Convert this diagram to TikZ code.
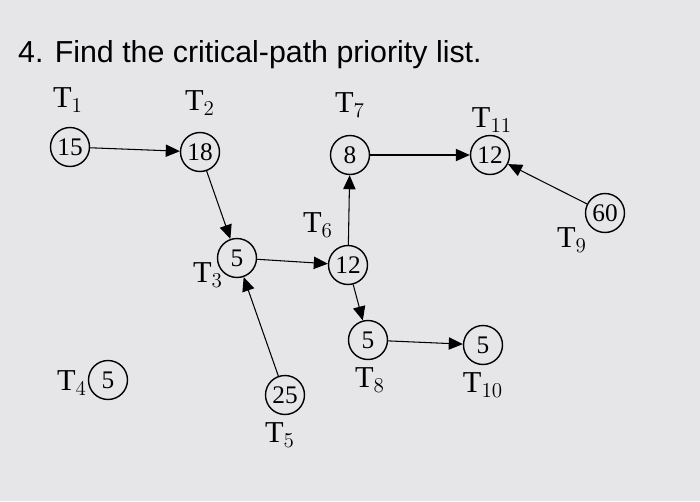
\documentclass[tikz,border=0pt]{standalone}
\usepackage{fontspec}
\setmainfont{Liberation Serif}
\newfontfamily\titlefont{Liberation Sans}
\usetikzlibrary{arrows.meta}
\definecolor{paper}{HTML}{E6E6E8}
\tikzset{
  task/.style={circle, draw, thick, minimum size=0.78cm, inner sep=0pt, font=\Large},
  tname/.style={font=\LARGE},
  edge/.style={draw, -{Triangle[length=8pt,width=7pt]}, semithick}
}
\begin{document}
\begin{tikzpicture}[x=0.02cm, y=-0.02cm]
  \fill[paper] (0,0) rectangle (700,501);
  \useasboundingbox (0,0) rectangle (700,501);
  \node[anchor=west, font=\titlefont\LARGE] (title) at (12,55) {4. Find the critical-path priority list.};

  % tasks
  \node[task] (t1) at (70,147) {15};
  \node[task] (t2) at (200,152) {18};
  \node[task] (t7) at (350,155) {8};
  \node[task] (t11) at (490,155) {12};
  \node[task] (t9) at (605,213) {60};
  \node[task] (t3) at (237,258) {5};
  \node[task] (t6) at (348,265) {12};
  \node[task] (t8) at (368,340) {5};
  \node[task] (t10) at (483,345) {5};
  \node[task] (t4) at (108,380) {5};
  \node[task] (t5) at (285,395) {25};

  % labels
  \node[tname] (l1) at (68,100) {T$_1$};
  \node[tname] (l2) at (200,103) {T$_2$};
  \node[tname] (l7) at (350,105) {T$_7$};
  \node[tname] (l11) at (492,120) {T$_{11}$};
  \node[tname] (l9) at (572,240) {T$_9$};
  \node[tname] (l3) at (208,275) {T$_3$};
  \node[tname] (l6) at (318,225) {T$_6$};
  \node[tname] (l8) at (370,380) {T$_8$};
  \node[tname] (l10) at (483,385) {T$_{10}$};
  \node[tname] (l4) at (72,383) {T$_4$};
  \node[tname] (l5) at (280,435) {T$_5$};

  % precedences
  \draw[edge] (t1) -- (t2);
  \draw[edge] (t2) -- (t3);
  \draw[edge] (t3) -- (t6);
  \draw[edge] (t5) -- (t3);
  \draw[edge] (t6) -- (t7);
  \draw[edge] (t7) -- (t11);
  \draw[edge] (t9) -- (t11);
  \draw[edge] (t6) -- (t8);
  \draw[edge] (t8) -- (t10);
\end{tikzpicture}
\end{document}
